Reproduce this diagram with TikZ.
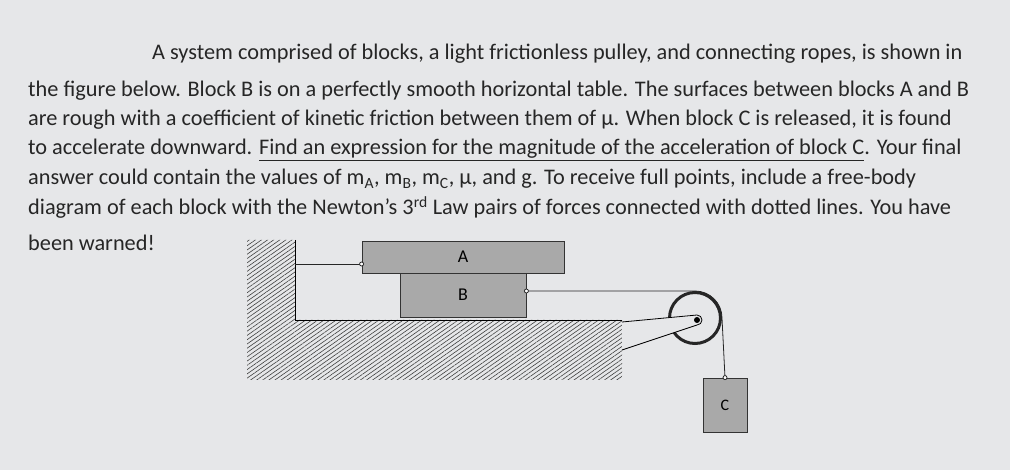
\documentclass[tikz,border=0pt]{standalone}
\usepackage{fontspec}
\setmainfont{Carlito}
\usetikzlibrary{patterns.meta}
\definecolor{bg}{HTML}{E6E7E9}
\definecolor{blk}{HTML}{A9A9A9}
\begin{document}
\begin{tikzpicture}[x=1pt,y=-1pt,
  txt/.style={anchor=base west,inner sep=0pt,font=\fontsize{22.3}{24}\selectfont,text=black!85},
  blockbox/.style={draw=black!80,fill=blk,line width=0.8pt,inner sep=0pt},
  rope/.style={draw=black!85,line width=0.8pt}]
\useasboundingbox[fill=bg] (0,0) rectangle (1010,470);
\node[txt] (l1) at (152,60) {A system comprised of blocks, a light frictionless pulley, and connecting ropes, is shown in};
\node[txt] (l2) at (28,97) {the figure below. Block B is on a perfectly smooth horizontal table. The surfaces between blocks A and B};
\node[txt] (l3) at (28,126) {are rough with a coefficient of kinetic friction between them of µ. When block C is released, it is found};
\node[txt] (l4) at (28,155) {to accelerate downward. \underline{Find an expression for the magnitude of the acceleration of block C}. Your final};
\node[txt] (l5) at (28,185) {answer could contain the values of m\textsubscript{A}, m\textsubscript{B}, m\textsubscript{C}, µ, and g. To receive full points, include a free-body};
\node[txt] (l6) at (28,215) {diagram of each block with the Newton’s 3\textsuperscript{rd} Law pairs of forces connected with dotted lines. You have};
\node[txt] (l7) at (28,251) {been warned!};
% ground
\fill[pattern={Lines[angle=35,distance=3.5pt,line width=0.6pt]},pattern color=black!75]
  (247,240) -- (295,240) -- (295,320) -- (622,320) -- (622,380) -- (247,380) -- cycle;
\draw[line width=0.9pt] (295,240) -- (295,320) -- (622,320);
% blocks
\node[blockbox,minimum width=202pt,minimum height=32pt,font=\fontsize{18}{18}\selectfont] (A) at (463,257) {A};
\node[blockbox,minimum width=126pt,minimum height=44pt,font=\fontsize{18}{18}\selectfont] (B) at (463,295) {B};
\node[blockbox,minimum width=44pt,minimum height=54pt,font=\fontsize{16}{16}\selectfont] (C) at (725,405) {C};
% pulley
\node[draw=black!85,line width=3pt,circle,minimum size=51pt,inner sep=0pt] (P) at (695,318) {};
\coordinate (hub) at (697,320);
\coordinate (w1) at (295,264);
\coordinate (b1) at (622,322);
\coordinate (b2) at (622,350);
\draw[line width=0.8pt,fill=bg] (b1) -- (697,315) arc (-90:90:5) -- (b2);
\fill (hub) circle (3);
\draw[rope] (w1) -- (A.west |- w1);
\draw[rope] (B.east |- 0,291) -- (695,291) arc (-90:0:27) -- (C.north);
\draw[black!85,line width=0.8pt,fill=white] (A.west |- w1) circle (2);
\draw[black!85,line width=0.8pt,fill=white] (B.east |- 0,291) circle (2);
\draw[black!85,line width=0.8pt,fill=white] (C.north) circle (2);
\end{tikzpicture}
\end{document}
